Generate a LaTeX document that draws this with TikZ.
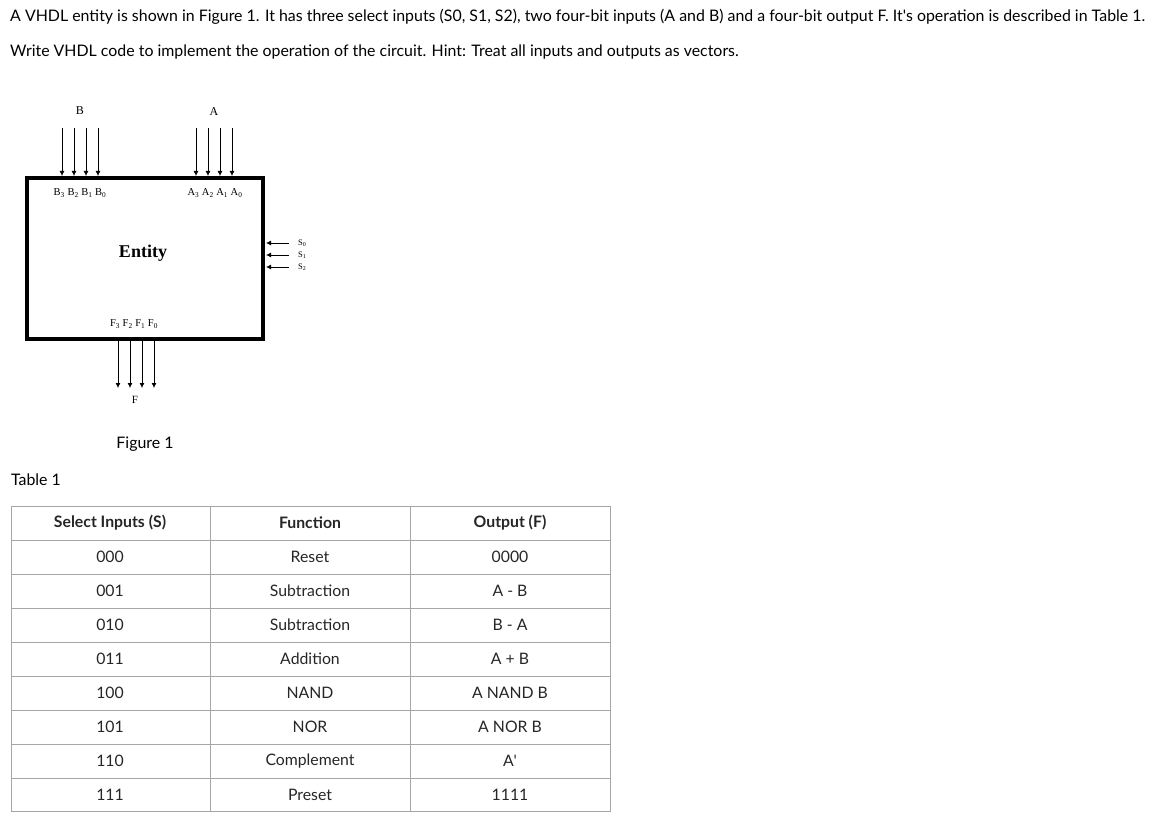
\documentclass[tikz,border=0pt]{standalone}
\usepackage{fontspec}
\setmainfont{Lato}
\newfontfamily\tms{Liberation Serif}
\begin{document}
\begin{tikzpicture}[x=1pt,y=-1pt,
  body/.style={font=\fontsize{15.9}{18}\selectfont,inner sep=0pt},
  lbl/.style={font=\tms\fontsize{10.5}{12}\selectfont,inner sep=0pt},
  sig/.style={line width=0.8pt,-{Latex[length=5pt,width=5pt]}},
  cell/.style={font=\fontsize{15.8}{18}\selectfont,inner sep=0pt,text=black!85}]
\usetikzlibrary{arrows.meta}
\useasboundingbox (0,0) rectangle (1157,821);
\node[body,anchor=west] (l1) at (10,17) {A VHDL entity is shown in Figure 1. It has three select inputs (S0, S1, S2), two four-bit inputs (A and B) and a four-bit output F. It\textquotesingle s operation is described in Table 1.};
\node[body,anchor=west] (l2) at (10,52) {Write VHDL code to implement the operation of the circuit. Hint: Treat all inputs and outputs as vectors.};
% entity
\draw[line width=4pt] (27,178) rectangle (263,339);
\node[font=\tms\bfseries\fontsize{18}{20}\selectfont] (ent) at (143,253) {Entity};
\node[lbl,font=\tms\fontsize{12}{13}\selectfont] (B) at (80,111) {B};
\node[lbl,font=\tms\fontsize{12}{13}\selectfont] (A) at (214,112) {A};
\node[lbl,font=\tms\fontsize{11}{13}\selectfont] (F) at (135,400) {F};
\foreach \x in {62,74,86,98} \draw[sig] (\x,128) -- (\x,176);
\foreach \x in {196,208,220,232} \draw[sig] (\x,128) -- (\x,176);
\foreach \x in {118,130,142,154} \draw[sig] (\x,341) -- (\x,388);
\node[lbl] (bl) at (80,193) {B\textsubscript{3} B\textsubscript{2} B\textsubscript{1} B\textsubscript{0}};
\node[lbl] (al) at (215,193) {A\textsubscript{3} A\textsubscript{2} A\textsubscript{1} A\textsubscript{0}};
\node[lbl] (fl) at (134,324) {F\textsubscript{3} F\textsubscript{2} F\textsubscript{1} F\textsubscript{0}};
\foreach \y/\i in {243/0,255/1,267/2} {
  \draw[sig] (289,\y) -- (266,\y);
  \node[lbl,anchor=west,font=\tms\fontsize{8.5}{9}\selectfont] (s\i) at (298,\y) {S\textsubscript{\i}};
}
\node[body] (fig) at (145,444) {Figure 1};
\node[body] (tab) at (36,480) {Table 1};
% table
\draw[black!35,line width=0.8pt] (11,506) rectangle (610,811);
\foreach \y in {540,574,608,642,676,710,744,778} \draw[black!35,line width=0.8pt] (11,\y) -- (610,\y);
\foreach \x in {210,410} \draw[black!35,line width=0.8pt] (\x,506) -- (\x,811);
\node[cell,font=\bfseries\fontsize{15.8}{18}\selectfont] (h1) at (110,523) {Select Inputs (S)};
\node[cell,font=\bfseries\fontsize{15.8}{18}\selectfont] (h2) at (310,523) {Function};
\node[cell,font=\bfseries\fontsize{15.8}{18}\selectfont] (h3) at (510,523) {Output (F)};
\foreach \s/\f/\o [count=\i] in {000/Reset/0000,001/Subtraction/A - B,010/Subtraction/B - A,011/Addition/A + B,100/NAND/A NAND B,101/NOR/A NOR B,110/Complement/A\textquotesingle,111/Preset/1111} {
  \node[cell] (s\i) at (110,523+34*\i) {\s};
  \node[cell] (f\i) at (310,523+34*\i) {\f};
  \node[cell] (o\i) at (510,523+34*\i) {\o};
}
\end{tikzpicture}
\end{document}
